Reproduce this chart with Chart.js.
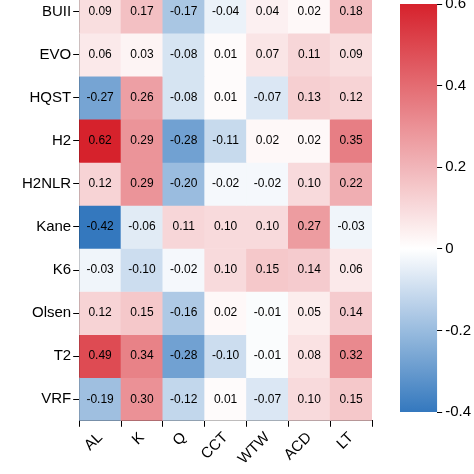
<!DOCTYPE html>
<html><head><meta charset="utf-8">
<script src="https://cdn.jsdelivr.net/npm/chart.js@4"></script>
<style>
body{margin:0;background:#fff;width:474px;height:474px;overflow:hidden;position:relative}
#heat{position:absolute;left:0;top:-24px}
#bar{position:absolute;left:395px;top:-8px}
</style></head><body>
<canvas id="heat" width="380" height="494"></canvas>
<canvas id="bar" width="79" height="432"></canvas>
<script>
const rows = ['BUII','EVO','HQST','H2','H2NLR','Kane','K6','Olsen','T2','VRF'];
const cols = ['AL','K','Q','CCT','WTW','ACD','LT'];
const values = [
  [0.09,0.17,-0.17,-0.04,0.04,0.02,0.18],
  [0.06,0.03,-0.08,0.01,0.07,0.11,0.09],
  [-0.27,0.26,-0.08,0.01,-0.07,0.13,0.12],
  [0.62,0.29,-0.28,-0.11,0.02,0.02,0.35],
  [0.12,0.29,-0.20,-0.02,-0.02,0.10,0.22],
  [-0.42,-0.06,0.11,0.10,0.10,0.27,-0.03],
  [-0.03,-0.10,-0.02,0.10,0.15,0.14,0.06],
  [0.12,0.15,-0.16,0.02,-0.01,0.05,0.14],
  [0.49,0.34,-0.28,-0.10,-0.01,0.08,0.32],
  [-0.19,0.30,-0.12,0.01,-0.07,0.10,0.15]
];
const vmin = -0.4, vmax = 0.6;
const cbTicks = [-0.4,-0.2,0,0.2,0.4,0.6];

const blue=[52,120,190], red=[214,34,44];
function color(v){
  let c, t;
  if(v<0){t=Math.min(1,-v/-vmin);c=blue;}else{t=Math.min(1,v/vmax);c=red;}
  const m=i=>Math.round(255+(c[i]-255)*t);
  return `rgb(${m(0)},${m(1)},${m(2)})`;
}
const font='"Liberation Sans", Arial, sans-serif';

// one dataset per row; floating bars span the row band
const datasets = rows.map((r,i)=>({
  label:r,
  data: cols.map(()=>[rows.length-1-i, rows.length-i]),
  vals: values[i],
  backgroundColor: values[i].map(color),
  borderWidth:0, barPercentage:1, categoryPercentage:1, grouped:false
}));

const labelPlugin={id:'lbl',afterDatasetsDraw(chart){
  const ctx=chart.ctx;ctx.save();
  ctx.font='12px '+font;ctx.fillStyle='#000';ctx.textAlign='center';ctx.textBaseline='middle';
  chart.data.datasets.forEach((ds,i)=>{
    chart.getDatasetMeta(i).data.forEach((b,j)=>{
      ctx.fillText(ds.vals[j].toFixed(2),b.x,(b.y+b.base)/2);
    });
  });
  ctx.restore();
}};

new Chart(document.getElementById('heat'),{
  type:'bar',
  data:{labels:cols,datasets},
  options:{responsive:false,animation:false,
    layout:{padding:{top:14,right:8,left:20}},
    plugins:{legend:{display:false},tooltip:{enabled:false}},
    scales:{
      x:{grid:{display:true,drawOnChartArea:false,tickLength:6,color:'#000'},border:{color:'#000'},
         ticks:{color:'#000',font:{size:15,family:font},maxRotation:45,minRotation:45,padding:2}},
      y:{min:0,max:rows.length,
         afterBuildTicks(ax){ax.ticks=rows.map((r,i)=>({value:rows.length-1-i+0.5}));},
         grid:{display:true,drawOnChartArea:false,tickLength:6,color:'#000'},border:{color:'#000'},
         ticks:{color:'#000',font:{size:15,family:font},padding:2,
           callback:(v)=>rows[rows.length-1-Math.floor(v)]}}
    }},
  plugins:[labelPlugin]
});

// colorbar
new Chart(document.getElementById('bar'),{
  type:'bar',
  data:{labels:[''],datasets:[{data:[[vmin,vmax]],barPercentage:1,categoryPercentage:1,borderWidth:0,
    backgroundColor(ctx){
      const a=ctx.chart.chartArea;if(!a)return '#fff';
      const y=ctx.chart.scales.y;
      const g=ctx.chart.ctx.createLinearGradient(0,y.getPixelForValue(vmax),0,y.getPixelForValue(vmin));
      for(let k=0;k<=20;k++){const v=vmax-(vmax-vmin)*k/20;g.addColorStop(k/20,color(v));}
      return g;
    }}]},
  options:{responsive:false,animation:false,
    layout:{padding:{top:0,bottom:0,left:5}},
    plugins:{legend:{display:false},tooltip:{enabled:false}},
    scales:{
      x:{display:false},
      y:{position:'right',min:vmin,max:vmax,
        afterBuildTicks(ax){ax.ticks=cbTicks.map(v=>({value:v}));},
        grid:{drawOnChartArea:false,tickLength:5,color:'#000'},border:{display:false},
        ticks:{color:'#000',font:{size:15,family:font},callback:v=>v===0?'0':String(Math.round(v*10)/10)}}
    }}
});
</script>
</body></html>
